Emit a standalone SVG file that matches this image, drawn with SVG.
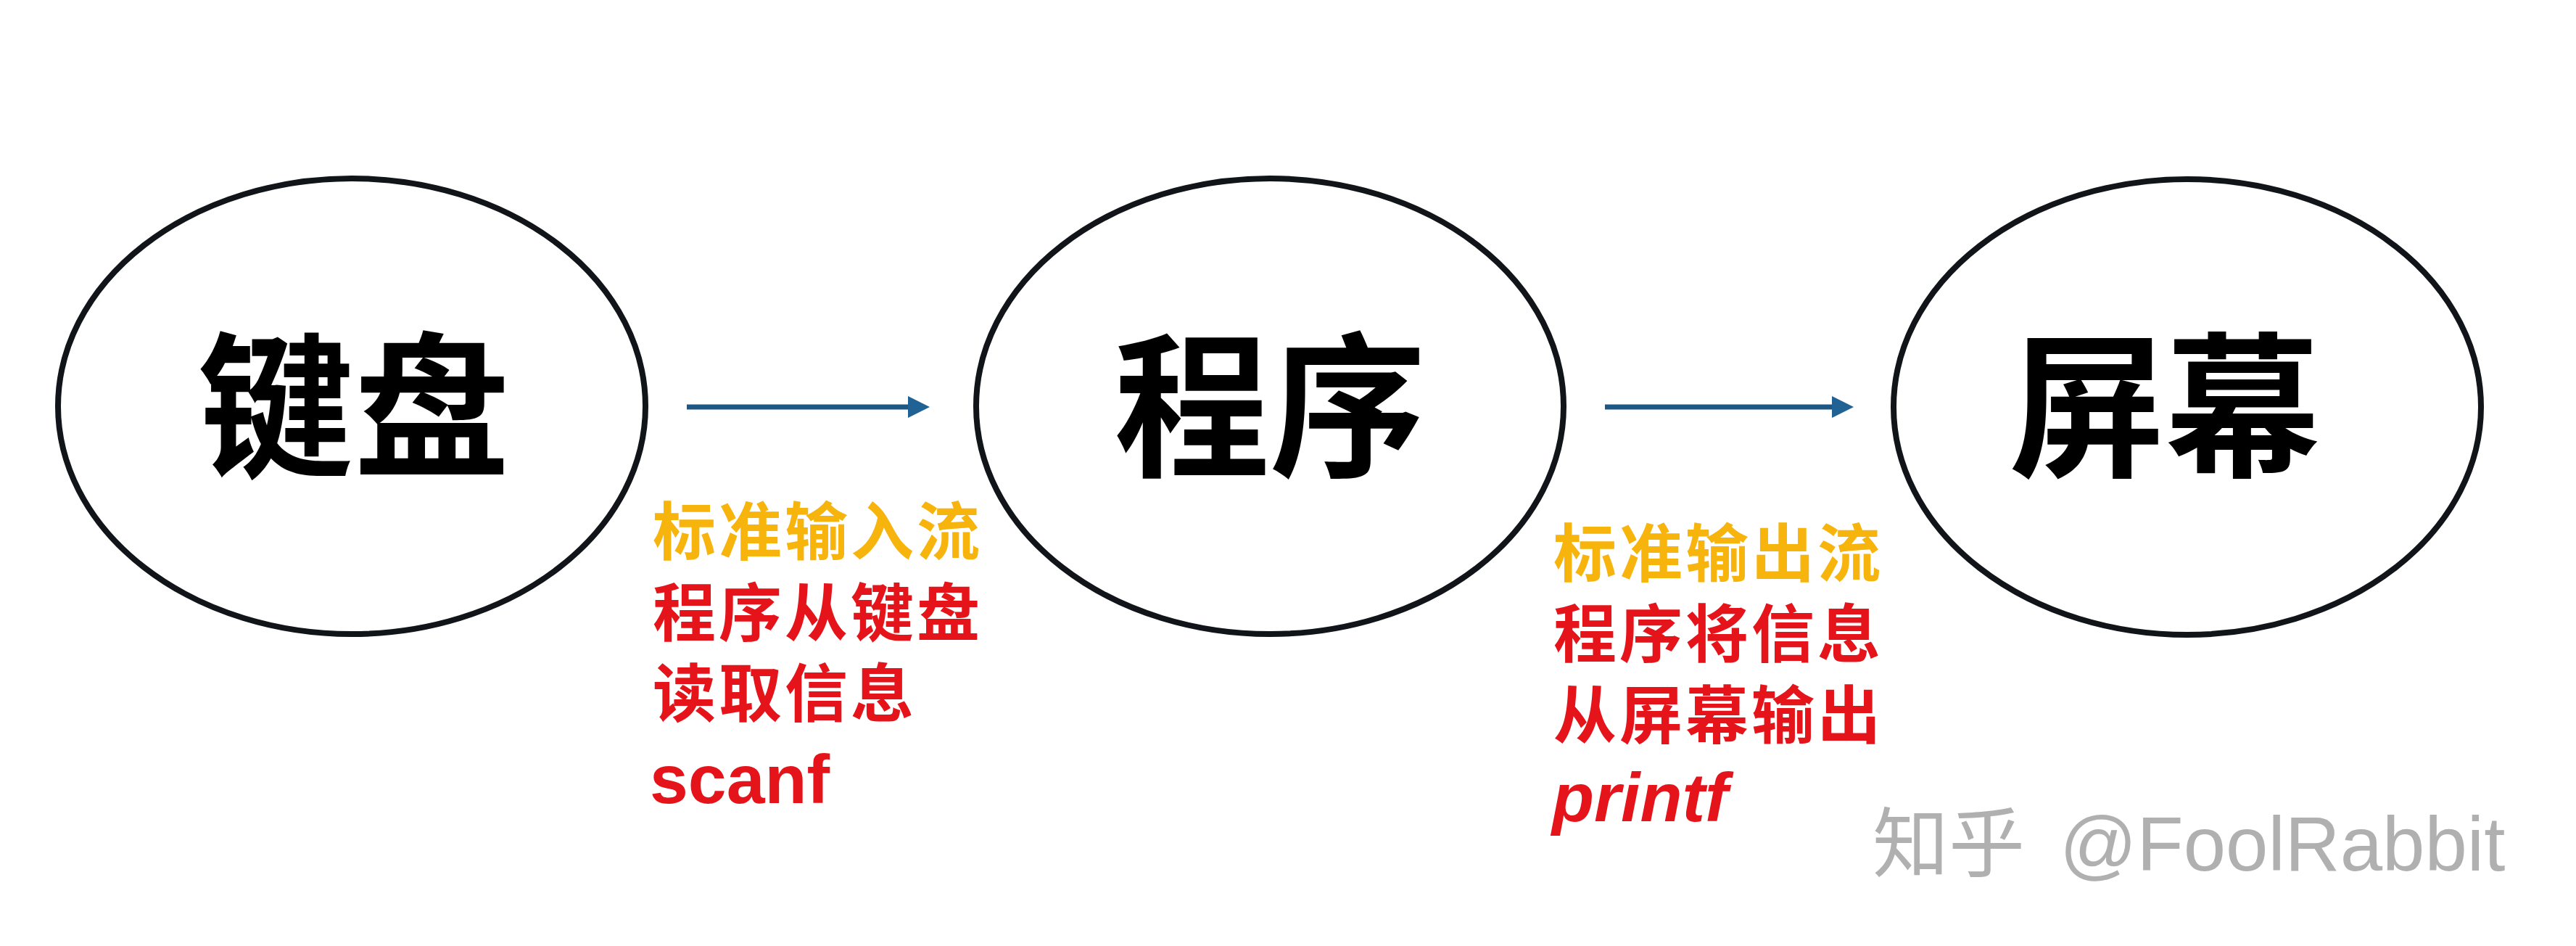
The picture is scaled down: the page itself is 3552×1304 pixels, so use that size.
<svg xmlns="http://www.w3.org/2000/svg" width="3552" height="1304" viewBox="0 0 3552 1304">
<defs>
  <style>
    .node { fill: #ffffff; stroke: #111418; stroke-width: 8; }
    .big { font-family: "Noto Sans CJK SC", "Noto Sans", sans-serif; font-weight: 700; font-size: 215px; fill: #000; text-anchor: middle; }
    .lbl { font-family: "Liberation Sans", "Noto Sans CJK SC", sans-serif; font-weight: 700; font-size: 87px; letter-spacing: 4px; }
    .code { font-family: "Liberation Sans", "Noto Sans", sans-serif; font-weight: 700; font-size: 95px; fill: #E5141B; }
    .yel { fill: #F6B40C; }
    .red { fill: #E5141B; }
    .conn { stroke: #1d5784; stroke-width: 7; fill: none; }
    .wm { font-family: "Liberation Sans", "Noto Sans CJK SC", sans-serif; font-size: 105px; fill: #b0b0b0; }
  </style>
  <marker id="arr" markerUnits="userSpaceOnUse" markerWidth="32" markerHeight="32" refX="1" refY="16" orient="auto">
    <path d="M0,1 L30,16 L0,31 Z" fill="#1f6293"/>
  </marker>
</defs>
<rect width="3552" height="1304" fill="#ffffff"/>

<g id="node-keyboard">
  <ellipse class="node" cx="485" cy="560" rx="405" ry="314"/>
  <text class="big" x="488" y="640">键盘</text>
</g>
<g id="node-program">
  <ellipse class="node" cx="1751" cy="560" rx="405" ry="314"/>
  <text class="big" x="1751" y="640">程序</text>
</g>
<g id="node-screen">
  <ellipse class="node" cx="3016" cy="561" rx="405" ry="314"/>
  <text class="big" x="2985" y="640">屏幕</text>
</g>

<g id="connectors">
  <line class="conn" x1="947" y1="561" x2="1253" y2="561" marker-end="url(#arr)"/>
  <line class="conn" x1="2213" y1="561" x2="2527" y2="561" marker-end="url(#arr)"/>
</g>

<g id="label-input">
  <text class="lbl yel" x="900" y="765">标准输入流</text>
  <text class="lbl red" x="900" y="877">程序从键盘</text>
  <text class="lbl red" x="900" y="988">读取信息</text>
  <text class="code" x="896" y="1107">scanf</text>
</g>
<g id="label-output">
  <text class="lbl yel" x="2142" y="795">标准输出流</text>
  <text class="lbl red" x="2142" y="906">程序将信息</text>
  <text class="lbl red" x="2142" y="1018">从屏幕输出</text>
  <text class="code" x="2140" y="1132" font-style="italic">printf</text>
</g>

<g id="watermark">
  <text class="wm" x="2582" y="1200">知乎</text>
  <text class="wm" x="2840" y="1200">@FoolRabbit</text>
</g>
</svg>
